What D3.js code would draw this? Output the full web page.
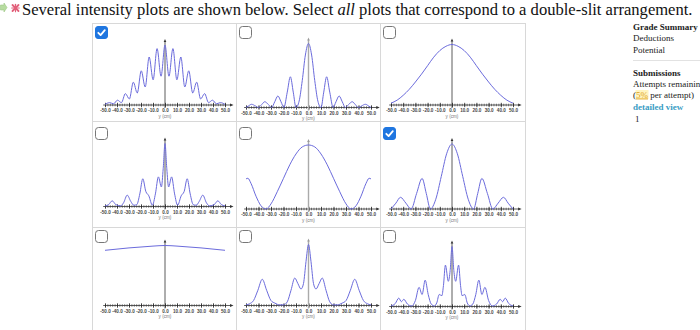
<!DOCTYPE html>
<html>
<head>
<meta charset="utf-8">
<script src="https://cdn.jsdelivr.net/npm/d3@7/dist/d3.min.js"></script>
<style>
  html, body { margin: 0; padding: 0; background: #fff; }
  svg { display: block; }
</style>
</head>
<body>
<svg id="page" width="700" height="330"></svg>
<script>
// ---- data --------------------------------------------------------------
// Tick marks on every intensity axis (y in cm)
const tickValues = [-50, -40, -30, -20, -10, 0, 10, 20, 30, 40, 50];
const tickLabels = ["-50.0", "-40.0", "-30.0", "-20.0", "-10.0", "0.0", "10.0", "20.0", "30.0", "40.0", "50.0"];
const minorStep = 2;

// Which choices are ticked
const checked = [true, false, false, false, false, true, false, false, false];

// Relative intensity I(y) for each choice, as [y (cm), I] pairs
const curve1 = [[-50,0.01],[-46.2,0.04],[-42.9,0.02],[-39.6,0.08],[-36.3,0.04],[-33,0.19],[-29.7,0.1],[-26.4,0.38],[-23.1,0.2],[-19.8,0.57],[-16.5,0.3],[-13.2,0.8],[-9.9,0.42],[-6.6,0.94],[-3.3,0.48],[0,1],[3.3,0.48],[6.6,0.94],[9.9,0.42],[13.2,0.8],[16.5,0.3],[19.8,0.57],[23.1,0.2],[26.4,0.38],[29.7,0.1],[33,0.19],[36.3,0.04],[39.6,0.08],[42.9,0.02],[46.2,0.04],[50,0.01]];
const curve2 = [[-50,0],[-48,0.025],[-45.5,0.05],[-42.5,0.025],[-40,0],[-37.5,0.045],[-35,0.09],[-32,0.045],[-29.5,0],[-27,0.09],[-24.5,0.18],[-22,0.09],[-19.7,0],[-17,0.24],[-14.5,0.48],[-12.2,0.24],[-10,0],[-7.5,0.1],[-5,0.42],[-2.5,0.82],[0,1],[2.5,0.82],[5,0.42],[7.5,0.1],[10,0],[12.2,0.24],[14.5,0.48],[17,0.24],[19.7,0],[22,0.09],[24.5,0.18],[27,0.09],[29.5,0],[32,0.045],[35,0.09],[37.5,0.045],[40,0],[42.5,0.025],[45.5,0.05],[48,0.025],[50,0]];
const curve3 = [[-50,0.03],[-45,0.08],[-40,0.16],[-35,0.26],[-30,0.38],[-25,0.51],[-20,0.65],[-15,0.79],[-10,0.9],[-5,0.97],[0,1],[5,0.97],[10,0.9],[15,0.79],[20,0.65],[25,0.51],[30,0.38],[35,0.26],[40,0.16],[45,0.08],[50,0.03]];
const curve4 = [[-50,0.01],[-47,0.03],[-44,0.09],[-41,0.03],[-37,0.01],[-34.5,0.06],[-31.5,0.18],[-28.5,0.08],[-26,0.02],[-23.5,0.03],[-21,0.2],[-18.5,0.44],[-16,0.24],[-13.5,0.17],[-10.5,0.02],[-8,0.2],[-5.5,0.47],[-3,0.31],[-1.5,0.6],[0,1],[1.5,0.6],[3,0.31],[5.5,0.47],[8,0.2],[10.5,0.02],[13.5,0.17],[16,0.24],[18.5,0.44],[21,0.2],[23.5,0.03],[26,0.02],[28.5,0.08],[31.5,0.18],[34.5,0.06],[37,0.01],[41,0.03],[44,0.09],[47,0.03],[50,0.01]];
const curve5 = [[-50,0.47],[-48.5,0.48],[-46,0.4],[-42,0.2],[-38,0.05],[-34,0],[-30,0.08],[-25,0.27],[-20,0.48],[-15,0.69],[-10,0.86],[-5,0.97],[0,1],[5,0.97],[10,0.86],[15,0.69],[20,0.48],[25,0.27],[30,0.08],[34,0],[38,0.05],[42,0.2],[46,0.4],[48.5,0.48],[50,0.47]];
const curve6 = [[-50,0],[-46,0.09],[-42.2,0.18],[-37.8,0.09],[-33.5,0],[-29,0.24],[-24.5,0.47],[-21.1,0.24],[-17.7,0],[-13.3,0.15],[-8.8,0.5],[-4.4,0.85],[0,1],[4.4,0.85],[8.8,0.5],[13.3,0.15],[17.7,0],[21.1,0.24],[24.5,0.47],[29,0.24],[33.5,0],[37.8,0.09],[42.2,0.18],[46,0.09],[50,0]];
const curve7 = [[-50,0.92],[-40,0.94],[-30,0.96],[-20,0.975],[-10,0.99],[0,1],[10,0.99],[20,0.975],[30,0.96],[40,0.94],[50,0.92]];
const curve8 = [[-50,0.01],[-47,0.03],[-44,0.08],[-40.5,0.25],[-37,0.43],[-33.5,0.25],[-30,0.08],[-27,0.04],[-23,0.01],[-20,0.01],[-17,0.06],[-14,0.25],[-11,0.45],[-8.5,0.36],[-6,0.27],[-4,0.36],[-2,0.72],[0,1],[2,0.72],[4,0.36],[6,0.27],[8.5,0.36],[11,0.45],[14,0.25],[17,0.06],[20,0.01],[23,0.01],[27,0.04],[30,0.08],[33.5,0.25],[37,0.43],[40.5,0.25],[44,0.08],[47,0.03],[50,0.01]];
const curve9 = [[-50,0.01],[-46.5,0.05],[-43.6,0.14],[-41.5,0.08],[-39.5,0.12],[-36.5,0.04],[-33,0.01],[-30,0.1],[-27,0.32],[-24.5,0.2],[-22,0.44],[-19.5,0.2],[-17,0.04],[-14.5,0.01],[-12.5,0.06],[-10.5,0.2],[-8.3,0.18],[-7,0.35],[-5.4,0.69],[-3,0.42],[-1.5,0.6],[0,1],[1.5,0.6],[3,0.42],[5.4,0.69],[7,0.35],[8.3,0.18],[10.5,0.2],[12.5,0.06],[14.5,0.01],[17,0.04],[19.5,0.2],[22,0.44],[24.5,0.2],[27,0.32],[30,0.1],[33,0.01],[36.5,0.04],[39.5,0.12],[41.5,0.08],[43.6,0.14],[46.5,0.05],[50,0.01]];

const curves = [curve1, curve2, curve3, curve4, curve5, curve6, curve7, curve8, curve9];

// ---- layout --------------------------------------------------------------
const gridLeft = 92, gridRight = 525;
const colLefts = [92, 236, 380];
const rowTops = [23, 121, 227];
const boxTops = [26, 127, 230];
const colRanges = [[105, 225], [246, 371], [391, 513]];
const axisYs = [105, 107.5, 105, 206.5, 209, 209, 305.5, 305.5, 306.5];
const peakYs = [45, 43.5, 44.5, 143.5, 145, 144, 245.5, 244.5, 246.5];

const svg = d3.select("#page");

// ---- header line --------------------------------------------------------
const head = svg.append("text")
  .attr("x", 22).attr("y", 14.5)
  .attr("font-family", "'Liberation Serif', 'Times New Roman', serif")
  .attr("font-size", 17).attr("fill", "#111");
head.append("tspan").text("Several intensity plots are shown below. Select ");
head.append("tspan").attr("font-style", "italic").text("all");
head.append("tspan").text(" plots that correspond to a double-slit arrangement.");
const w = head.node().getComputedTextLength();
head.attr("font-size", 17 * 671 / w);

// status icons
svg.append("path").attr("d", "M0.5,5 L4,5 L4,3 L7,7.5 L4,12 L4,10 L0.5,10 Z")
  .attr("fill", "#b7dca0").attr("stroke", "#9cc884").attr("stroke-width", 0.6);
const star = svg.append("g").attr("transform", "translate(15.5,8)")
  .attr("stroke", "#e2607a").attr("stroke-width", 1.8).attr("stroke-linecap", "round");
star.append("line").attr("x1", -3).attr("y1", -3).attr("x2", 3).attr("y2", 3);
star.append("line").attr("x1", 3).attr("y1", -3).attr("x2", -3).attr("y2", 3);
star.append("line").attr("x1", 0).attr("y1", -3.8).attr("x2", 0).attr("y2", 3.8).attr("stroke-width", 1.1);
star.append("line").attr("x1", -3.8).attr("y1", 0).attr("x2", 3.8).attr("y2", 0).attr("stroke-width", 1.1);

// ---- grid of choices -----------------------------------------------------
const grid = svg.append("g").attr("stroke", "#d8d8d8").attr("stroke-width", 1).attr("fill", "none");
rowTops.forEach(t => grid.append("line").attr("x1", gridLeft).attr("x2", gridRight).attr("y1", t + 0.5).attr("y2", t + 0.5));
[gridLeft, 236, 380, gridRight].forEach(x => grid.append("line").attr("x1", x + 0.5).attr("x2", x + 0.5).attr("y1", rowTops[0]).attr("y2", 330));

curves.forEach((data, i) => {
  const col = i % 3, row = Math.floor(i / 3);
  const g = svg.append("g");
  const axisY = axisYs[i], peakY = peakYs[i];
  const x = d3.scaleLinear().domain([-50, 50]).range(colRanges[col]);
  const y = d3.scaleLinear().domain([0, 1]).range([axisY, peakY]);

  // checkbox
  const bx = colLefts[col] + 3.5, by = boxTops[row] + 0.5;
  const box = g.append("g").attr("transform", `translate(${bx},${by})`);
  if (checked[i]) {
    box.append("rect").attr("width", 12).attr("height", 12).attr("rx", 2.5)
      .attr("fill", "#1f76e0").attr("stroke", "#1f76e0");
    box.append("path").attr("d", "M2.8,6.3 L5.1,8.6 L9.3,3.6")
      .attr("fill", "none").attr("stroke", "#fff").attr("stroke-width", 1.8)
      .attr("stroke-linecap", "round").attr("stroke-linejoin", "round");
  } else {
    box.append("rect").attr("width", 12).attr("height", 12).attr("rx", 3)
      .attr("fill", "#fff").attr("stroke", "#777").attr("stroke-width", 1);
  }

  // horizontal axis line with arrow
  const xa0 = x(-51.5), xa1 = x(55);
  g.append("line").attr("x1", xa0).attr("x2", xa1).attr("y1", axisY).attr("y2", axisY)
    .attr("stroke", "#333").attr("stroke-width", 0.8);
  g.append("path").attr("d", `M${xa1 + 2.5},${axisY} L${xa1 - 1},${axisY - 1.6} L${xa1 - 1},${axisY + 1.6} Z`).attr("fill", "#333");

  // minor ticks
  const minor = d3.axisBottom(x).tickValues(d3.range(-50, 50.1, minorStep)).tickFormat("").tickSizeOuter(0);
  const gm = g.append("g").attr("transform", `translate(0,${axisY})`).call(minor);
  gm.select(".domain").remove();
  gm.selectAll(".tick line").attr("y1", -1.3).attr("y2", 1.3).attr("stroke", "#333").attr("stroke-width", 0.6);

  // major ticks and labels
  const major = d3.axisBottom(x).tickValues(tickValues).tickFormat((d, k) => tickLabels[k]).tickSizeOuter(0);
  const ga = g.append("g").attr("transform", `translate(0,${axisY})`).call(major);
  ga.select(".domain").remove();
  ga.selectAll(".tick line").attr("y1", -2.2).attr("y2", 2.2).attr("stroke", "#222").attr("stroke-width", 0.8);
  ga.selectAll(".tick text").attr("y", 4).attr("dy", "0.71em")
    .attr("font-family", "'Liberation Sans', Arial, sans-serif")
    .attr("font-size", 4.6).attr("font-weight", "bold").attr("fill", "#444");

  g.append("text").attr("x", x(0)).attr("y", axisY + 12.5).attr("text-anchor", "middle")
    .attr("font-family", "'Liberation Sans', Arial, sans-serif").attr("font-size", 4.6)
    .attr("fill", "#777").text("y (cm)");

  // vertical axis with arrow
  const light = col === 1;
  const vTop = peakY - 4;
  g.append("line").attr("x1", x(0)).attr("x2", x(0)).attr("y1", axisY + 3).attr("y2", vTop)
    .attr("stroke", light ? "#aaa" : "#333").attr("stroke-width", light ? 1.4 : 0.8);
  g.append("path").attr("d", `M${x(0)},${vTop - 2} L${x(0) - 1.3},${vTop + 1} L${x(0) + 1.3},${vTop + 1} Z`)
    .attr("fill", light ? "#999" : "#333");

  // intensity curve
  const line = d3.line().x(d => x(d[0])).y(d => y(d[1])).curve(d3.curveMonotoneX);
  g.append("path").datum(data).attr("d", line)
    .attr("fill", "none").attr("stroke", "#6b6bdc").attr("stroke-width", 1);
});

// ---- side panel -------------------------------------------------------------
const side = svg.append("g")
  .attr("font-family", "'Liberation Serif', 'Times New Roman', serif")
  .attr("font-size", 9).attr("fill", "#222");
side.append("text").attr("x", 633).attr("y", 30).attr("font-weight", "bold").text("Grade Summary");
side.append("text").attr("x", 633).attr("y", 41).text("Deductions");
side.append("text").attr("x", 633).attr("y", 52.5).text("Potential");
side.append("line").attr("x1", 633).attr("x2", 700).attr("y1", 60.5).attr("y2", 60.5)
  .attr("stroke", "#e2e2e2").attr("stroke-width", 1);
side.append("text").attr("x", 633).attr("y", 75.5).attr("font-weight", "bold").text("Submissions");
side.append("text").attr("x", 633).attr("y", 87).text("Attempts remaining");
const hl = side.append("rect").attr("fill", "#fff4c0");
const pct = side.append("text").attr("x", 633).attr("y", 97.5);
pct.append("tspan").text("(");
const pctNum = pct.append("tspan").attr("fill", "#e0a21a").attr("text-decoration", "underline").text("5%");
pct.append("tspan").text(" per attempt)");
// highlight box behind the percentage
const p0 = pctNum.node().getStartPositionOfChar(0).x;
const pw = pctNum.node().getComputedTextLength();
hl.attr("x", p0 - 0.5).attr("y", 90).attr("width", pw + 1).attr("height", 9);
side.append("text").attr("x", 633).attr("y", 109.5).attr("font-weight", "bold").attr("fill", "#3b9dc4").text("detailed view");
side.append("text").attr("x", 635).attr("y", 122).text("1");
</script>
</body>
</html>
